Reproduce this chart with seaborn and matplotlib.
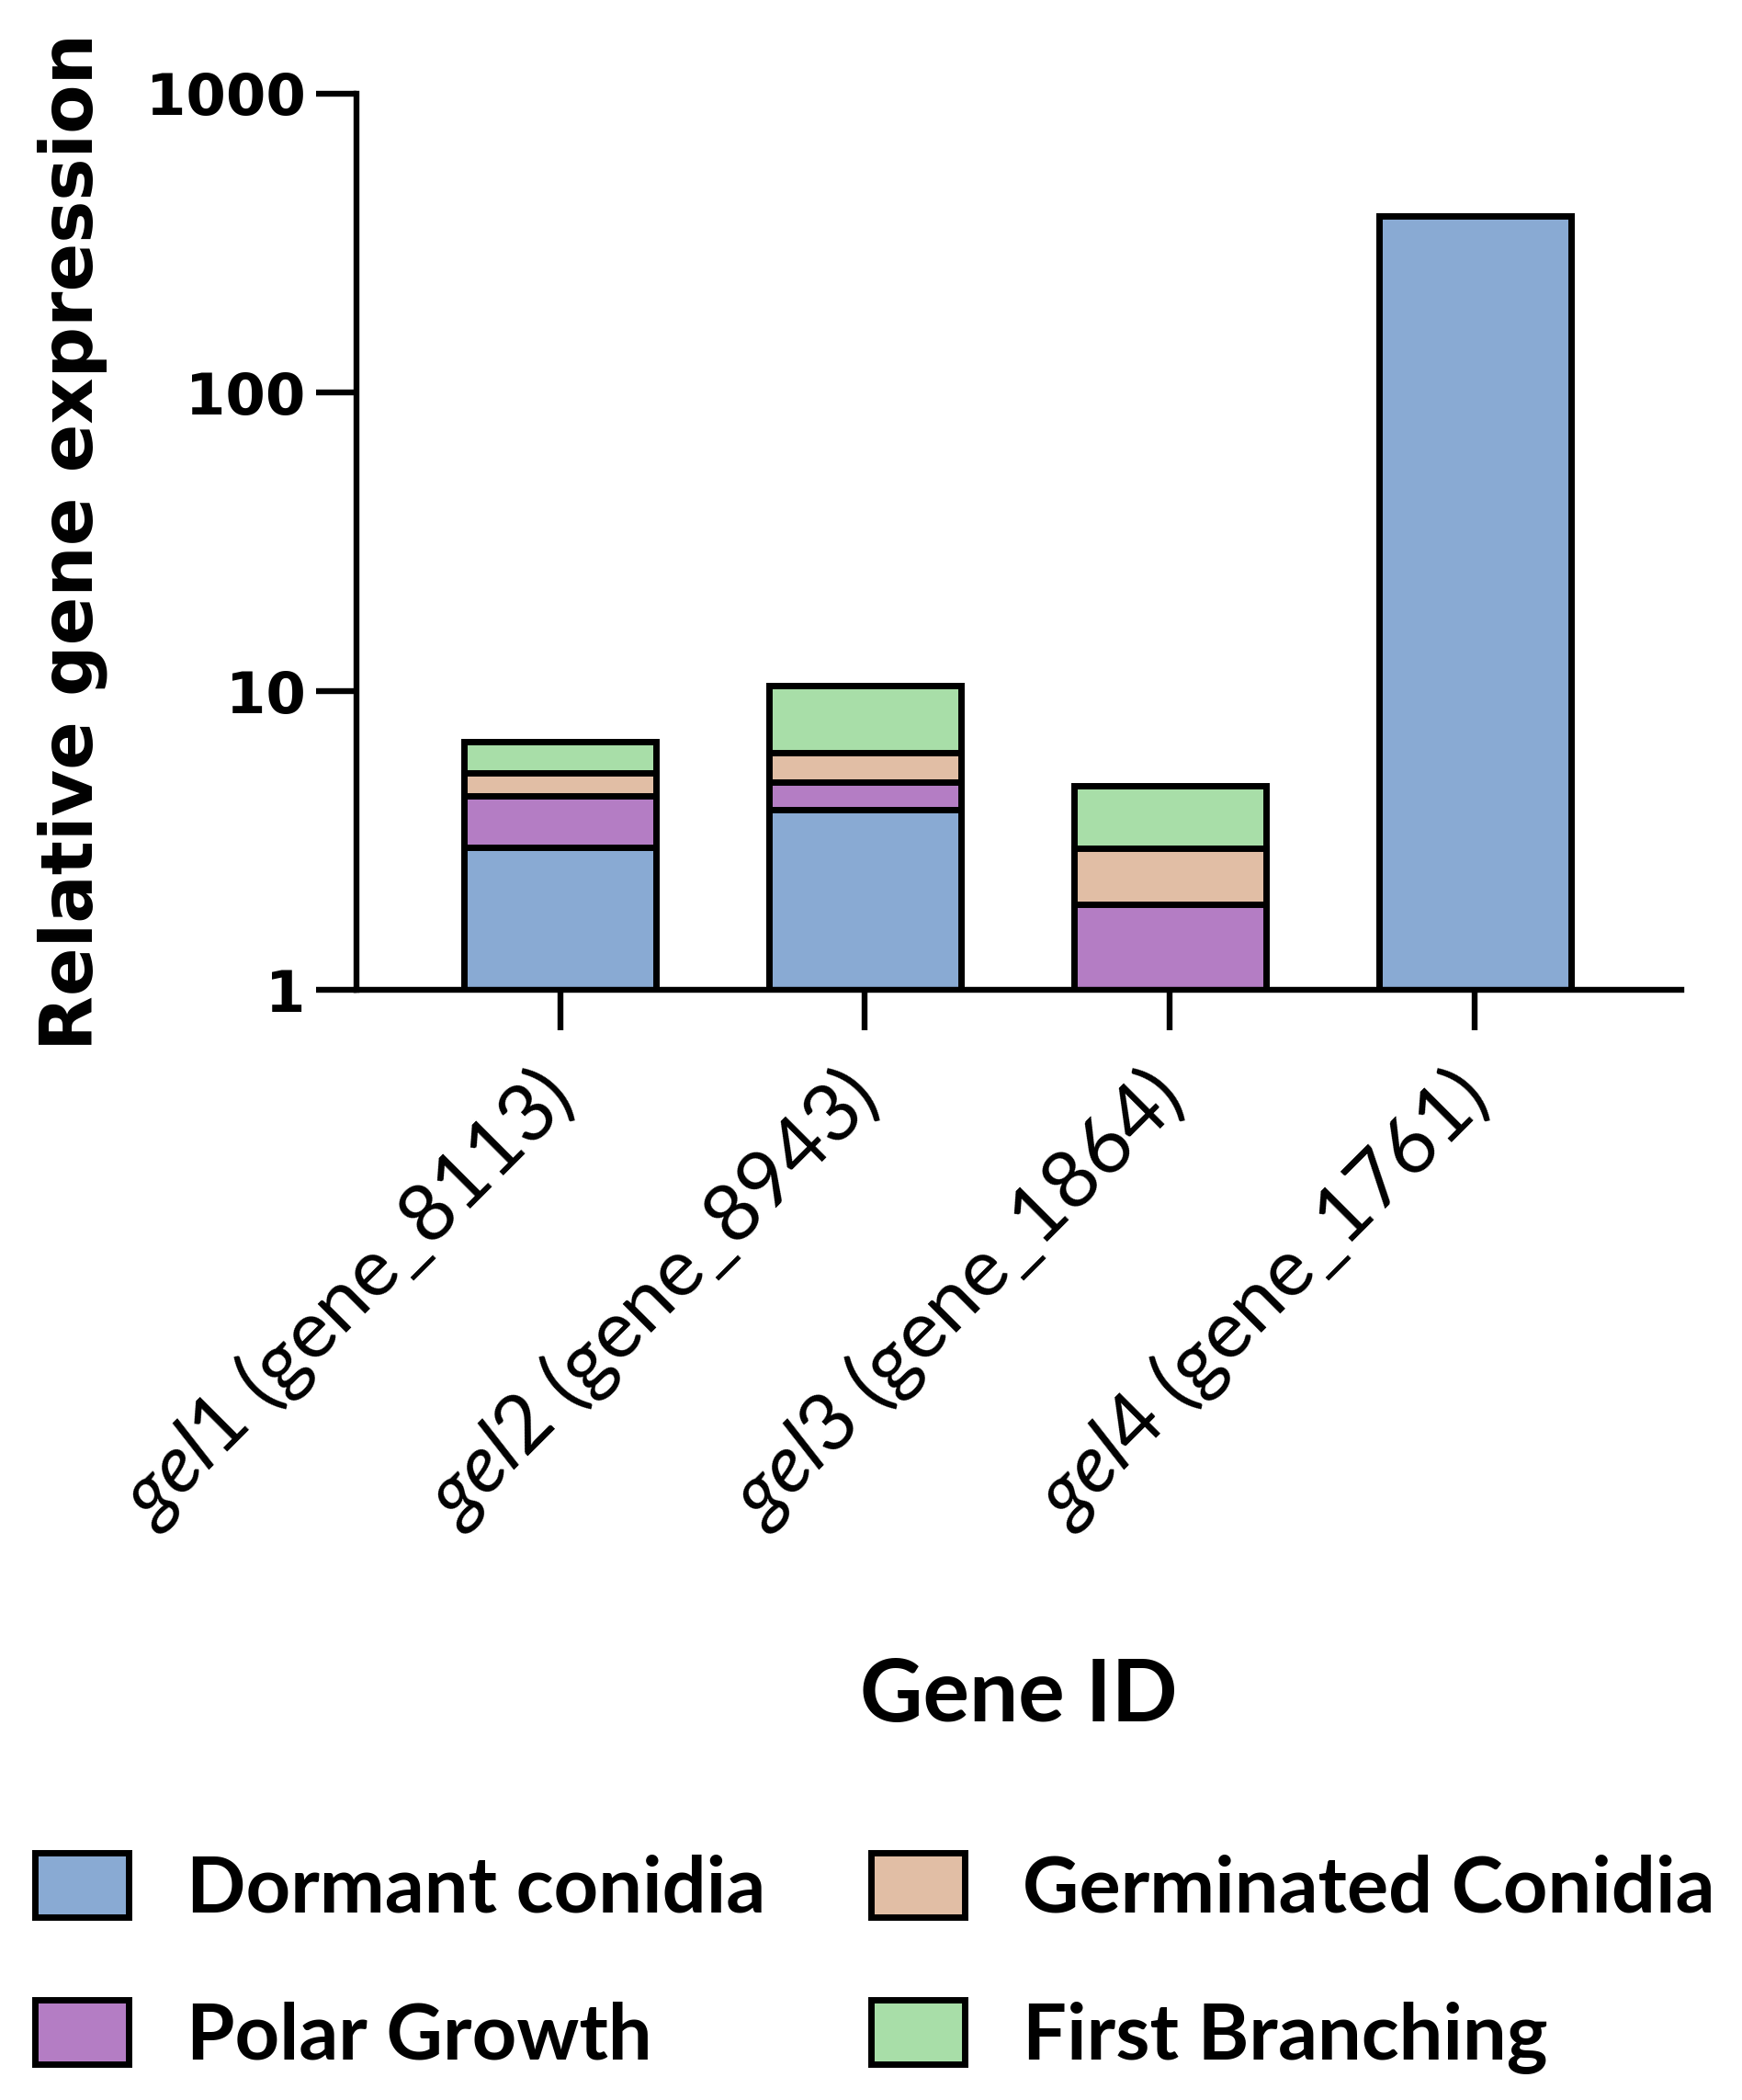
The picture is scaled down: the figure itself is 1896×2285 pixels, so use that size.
import numpy as np
import pandas as pd
import matplotlib
matplotlib.use('Agg')
import matplotlib.pyplot as plt
from matplotlib.patches import Patch
from matplotlib.ticker import NullLocator
import seaborn as sns

# values (log scale, stacked)
genes = ['gel1', 'gel2', 'gel3', 'gel4']
gene_ids = ['gene_8113', 'gene_8943', 'gene_1864', 'gene_1761']
stages = ['Dormant conidia', 'Polar Growth', 'Germinated Conidia', 'First Branching']
dormant = [3.0, 4.0, 0.0, 391.0]
polar = [1.45, 0.95, 1.93, 0.0]
germinated = [0.88, 1.26, 1.05, 0.0]
branching = [1.45, 4.2, 1.85, 0.0]
colors = ['#89AAD3', '#B47DC4', '#E1BEA5', '#A8DEA8']
ytick_vals = [1, 10, 100, 1000]


def build_frame():
    seg = np.array([dormant, polar, germinated, branching])
    cum = np.cumsum(seg, axis=0)
    rows = []
    for i, s in enumerate(stages):
        for j, g in enumerate(genes):
            rows.append({'gene': g, 'stage': s, 'total': cum[i, j]})
    return pd.DataFrame(rows)


def main():
    sns.set_style('ticks')
    plt.rcParams['mathtext.fontset'] = 'custom'
    plt.rcParams['mathtext.it'] = 'Lato:italic'
    plt.rcParams['mathtext.rm'] = 'Lato'
    plt.rcParams['font.family'] = ['DejaVu Sans']
    for key in ['text.color', 'axes.labelcolor', 'xtick.color', 'ytick.color', 'axes.edgecolor']:
        plt.rcParams[key] = 'black'

    df = build_frame()
    fig = plt.figure(figsize=(18.96, 22.85), dpi=100)
    ax = fig.add_axes([388 / 1896, 1 - 1077 / 2285, (1830 - 388) / 1896, (1077 - 102) / 2285])

    # draw cumulative totals, tallest first, so each stage sits on the one below
    sns.barplot(data=df, x='gene', y='total', hue='stage', hue_order=stages[::-1],
                palette=dict(zip(stages, colors)), dodge=False, width=0.63,
                saturation=1, errorbar=None, edgecolor='black', linewidth=5,
                legend=False, ax=ax)

    ax.set_yscale('log')
    ax.set_ylim(1, 1000)
    ax.set_xlim(-0.668, 3.678)
    ax.yaxis.set_minor_locator(NullLocator())
    ax.set_yticks(ytick_vals)
    ax.set_yticklabels([str(v) for v in ytick_vals], fontsize=45, fontweight='bold')

    labels = ['$\\mathit{%s}$ (%s)' % (g, gid) for g, gid in zip(genes, gene_ids)]
    ax.set_xticks(range(len(genes)))
    ax.set_xticklabels(labels, rotation=45, ha='right', va='center',
                       rotation_mode='anchor', fontsize=63, family='Lato')

    ax.tick_params(axis='both', which='major', bottom=True, left=True,
                   length=32, width=4.6, color='black', pad=8)
    ax.tick_params(axis='x', pad=44)
    for side in ['top', 'right']:
        ax.spines[side].set_visible(False)
    for side in ['left', 'bottom']:
        ax.spines[side].set_linewidth(4.6)
        ax.spines[side].set_color('black')

    ax.set_ylabel('Relative gene expression', fontsize=56, fontweight='bold')
    ax.yaxis.set_label_coords(-0.188, 0.5)
    ax.set_xlabel('Gene ID', fontsize=68, fontweight='bold', family='Lato', va='baseline')
    ax.xaxis.set_label_coords(0.5, -0.8166)

    handles = [Patch(facecolor=c, edgecolor='black', linewidth=5, label=s)
               for s, c in zip(stages, colors)]
    fig.legend(handles=handles, loc='upper left', bbox_to_anchor=(38 / 1896, 1 - 2016 / 2285),
               ncol=2, frameon=False, prop=dict(family='Lato', weight='bold', size=61),
               handlelength=1.2, handleheight=0.9, handletextpad=0.75,
               columnspacing=1.35, labelspacing=0.96, borderpad=0, borderaxespad=0)

    fig.savefig('out.png', dpi=100, facecolor='white')


if __name__ == '__main__':
    main()
